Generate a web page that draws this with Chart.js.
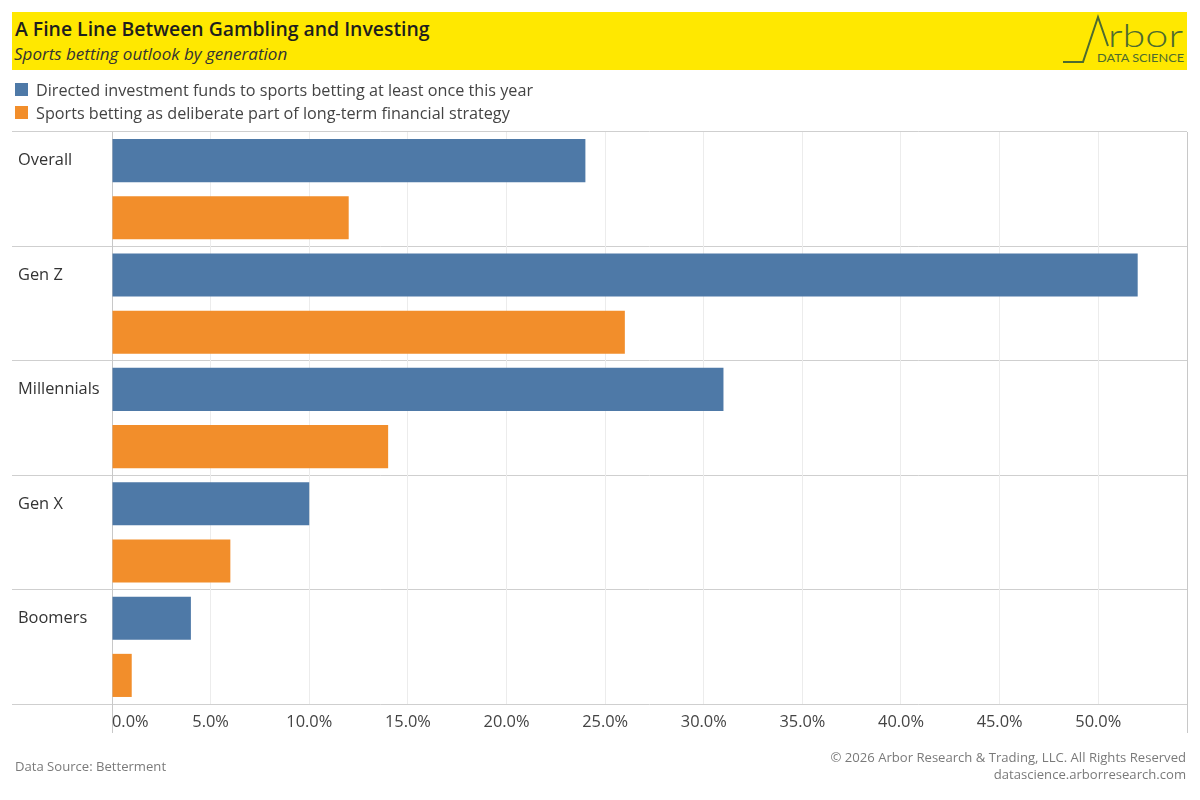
<!DOCTYPE html>
<html>
<head>
<meta charset="utf-8">
<script src="https://cdn.jsdelivr.net/npm/chart.js@4/dist/chart.umd.min.js"></script>
<style>
  html, body { margin: 0; padding: 0; background: #fff; }
  body { width: 1200px; height: 800px; position: relative; overflow: hidden; font-family: "Open Sans", Lato, sans-serif; }
  #c { position: absolute; left: 0; top: 0; }
  .abs { position: absolute; white-space: nowrap; }
  #titlebar { left: 12px; top: 12px; width: 1175px; height: 58px; background: #FFE800; }
  #title { left: 15px; top: 17px; font-size: 19.4px; font-weight: 600; color: #1e1e1e; line-height: 24px; }
  #subtitle { left: 14px; top: 43px; font-size: 17px; font-style: italic; color: #333; line-height: 21px; }
  .sw { width: 13px; height: 13px; }
  .lg { left: 36px; font-size: 16.2px; color: #444; line-height: 20px; }
  .foot { font-size: 13.1px; color: #7a7a7a; line-height: 16px; }
</style>
</head>
<body>
<canvas id="c" width="1200" height="800"></canvas>
<div class="abs" id="titlebar"></div>
<div class="abs" id="title">A Fine Line Between Gambling and Investing</div>
<div class="abs" id="subtitle">Sports betting outlook by generation</div>
<svg class="abs" style="left:1060px;top:12px" width="128" height="58" viewBox="0 0 128 58">
  <polyline points="3,50 23,50 38,5 48,34" fill="none" stroke="#4d6b2f" stroke-width="2"/>
  <text x="48" y="35" font-family="Lato, sans-serif" font-size="31" font-weight="300" fill="#4d6b2f" textLength="75" lengthAdjust="spacingAndGlyphs">rbor</text>
  <text x="37" y="50" font-family="Lato, sans-serif" font-size="11.5" fill="#4d6b2f" textLength="87" lengthAdjust="spacingAndGlyphs">DATA SCIENCE</text>
</svg>
<div class="abs sw" id="sw1" style="left:15px;top:83px;background:#4E79A7"></div>
<div class="abs lg" id="lg1" style="top:80px"></div>
<div class="abs sw" id="sw2" style="left:15px;top:106px;background:#F28E2B"></div>
<div class="abs lg" id="lg2" style="top:103px"></div>
<div class="abs foot" style="left:15px;top:758px">Data Source: Betterment</div>
<div class="abs foot" style="right:14px;top:749px">© 2026 Arbor Research &amp; Trading, LLC. All Rights Reserved</div>
<div class="abs foot" style="right:14px;top:766px">datascience.arborresearch.com</div>
<script>
const categories = ['Overall', 'Gen Z', 'Millennials', 'Gen X', 'Boomers'];
const seriesNames = [
  'Directed investment funds to sports betting at least once this year',
  'Sports betting as deliberate part of long-term financial strategy'
];
const directedFunds = [24, 52, 31, 10, 4];
const longTermStrategy = [12, 26, 14, 6, 1];
const xTickValues = [0, 5, 10, 15, 20, 25, 30, 35, 40, 45, 50];
const xMax = 54.5;
const seriesColors = ['#4E79A7', '#F28E2B'];

document.getElementById('lg1').textContent = seriesNames[0];
document.getElementById('lg2').textContent = seriesNames[1];

const catFont = { family: '"Open Sans", Lato, sans-serif', size: 16.4 };
const tickFont = { family: '"Open Sans", Lato, sans-serif', size: 16.4 };
const isEdge = v => v === 0 || v === xMax;

new Chart(document.getElementById('c'), {
  type: 'bar',
  data: {
    labels: categories,
    datasets: [
      { label: seriesNames[0], data: directedFunds, backgroundColor: seriesColors[0], borderWidth: 0 },
      { label: seriesNames[1], data: longTermStrategy, backgroundColor: seriesColors[1], borderWidth: 0 }
    ]
  },
  options: {
    indexAxis: 'y',
    responsive: false,
    animation: false,
    categoryPercentage: 1,
    barPercentage: 0.754,
    layout: { padding: { left: 18, top: 132, right: 13, bottom: 56 } },
    plugins: { legend: { display: false }, tooltip: { enabled: false } },
    scales: {
      y: {
        type: 'category',
        offset: true,
        border: { display: false },
        grid: { offset: true, color: '#cfcfcf', tickColor: '#cfcfcf', tickLength: 100, drawTicks: true, lineWidth: 1 },
        ticks: { crossAlign: 'far', labelOffset: -28.5, padding: 0, color: '#333', font: catFont },
        afterFit: s => { s.width = 94; }
      },
      x: {
        type: 'linear',
        min: 0,
        max: xMax,
        afterBuildTicks: s => { s.ticks = xTickValues.concat([xMax]).map(v => ({ value: v })); },
        border: { display: false },
        grid: {
          color: ctx => (ctx.tick && isEdge(ctx.tick.value)) ? '#c8c8c8' : '#ececec',
          tickColor: ctx => (ctx.tick && isEdge(ctx.tick.value)) ? '#c8c8c8' : 'rgba(0,0,0,0)',
          tickLength: 29,
          drawTicks: true
        },
        ticks: {
          align: 'inner',
          padding: -21,
          autoSkip: false,
          maxRotation: 0,
          color: '#444',
          font: tickFont,
          callback: v => v > 50.5 ? '' : Number(v).toFixed(1) + '%'
        },
        afterFit: s => { s.height = 40; }
      }
    }
  }
});
</script>
</body>
</html>
